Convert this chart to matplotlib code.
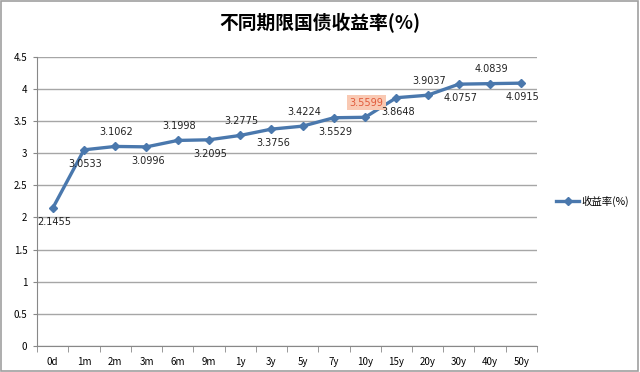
import matplotlib
matplotlib.use('Agg')
import matplotlib.pyplot as plt
import numpy as np
from matplotlib.patches import Rectangle

plt.rcParams['font.family'] = ['Noto Sans CJK SC', 'DejaVu Sans']

# data
terms = ['0d', '1m', '2m', '3m', '6m', '9m', '1y', '3y', '5y', '7y',
         '10y', '15y', '20y', '30y', '40y', '50y']
yields = [2.1455, 3.0533, 3.1062, 3.0996, 3.1998, 3.2095, 3.2775, 3.3756,
          3.4224, 3.5529, 3.5599, 3.8648, 3.9037, 4.0757, 4.0839, 4.0915]
label_above = [False, False, True, False, True, False, True, False,
               True, False, True, False, True, False, True, False]
highlight = '10y'

fig = plt.figure(figsize=(6.4, 3.72), dpi=100)
fig.patches.append(Rectangle((0.002, 0.003), 0.995, 0.993, transform=fig.transFigure,
                             fill=False, edgecolor='#a0a0a0', linewidth=1.2))
ax = fig.add_axes([0.058, 0.070, 0.781, 0.777])

x = np.arange(len(terms))
line_color = '#4a78ad'
ax.plot(x, yields, color=line_color, linewidth=2.4, marker='D', markersize=4.5,
        label='收益率(%)')

for i, (t, v, up) in enumerate(zip(terms, yields, label_above)):
    dy = 10.5 if up else -10
    txt = ax.annotate(f'{v:.4f}', (i, v), xytext=(1, dy), textcoords='offset points',
                      ha='center', va='center', fontsize=7, color='#222222',
                      family=['DejaVu Sans'])
    if t == highlight:
        txt.set_color('#e05a3a')
        txt.set_bbox(dict(boxstyle='square,pad=0.25', facecolor='#f9c9b3',
                          edgecolor='none'))

ax.set_xlim(-0.5, len(terms) - 0.5)
ax.set_ylim(0, 4.5)
ax.set_yticks(np.arange(0, 4.51, 0.5))
ax.set_yticklabels(['0', '0.5', '1', '1.5', '2', '2.5', '3', '3.5', '4', '4.5'])
ax.set_xticks(x)
ax.set_xticklabels(terms)
ax.set_xticks(np.arange(-0.5, len(terms), 1), minor=True)
ax.tick_params(axis='x', which='major', length=0, pad=8, labelsize=7)
ax.tick_params(axis='x', which='minor', length=4, color='#888888', direction='out')
ax.tick_params(axis='y', length=3, color='#888888', labelsize=7, pad=4)

ax.grid(axis='y', color='#a6a6a6', linewidth=1)
ax.set_axisbelow(True)
for s in ['top', 'right']:
    ax.spines[s].set_visible(False)
ax.spines['left'].set_color('#888888')
ax.spines['bottom'].set_color('#888888')

fig.suptitle('不同期限国债收益率(%)', x=0.5, y=0.965, fontsize=13.5, fontweight='bold')

ax.legend(loc='center left', bbox_to_anchor=(1.02, 0.50), frameon=False,
          fontsize=7.5, handlelength=2.2, handletextpad=0.2)

fig.savefig('out.png', dpi=100)
